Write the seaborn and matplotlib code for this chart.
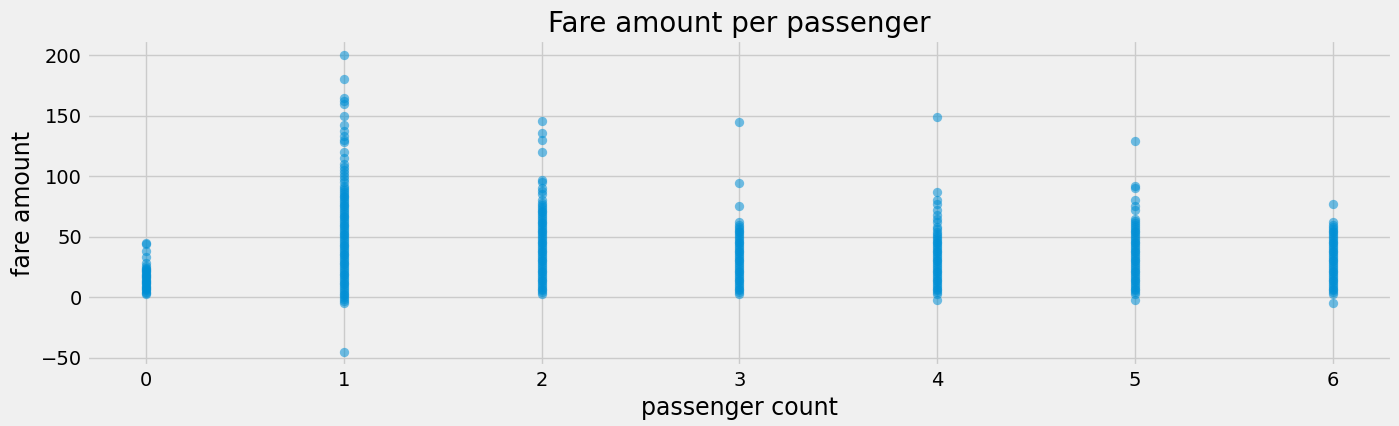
import matplotlib
matplotlib.use("Agg")
import matplotlib.pyplot as plt
import seaborn as sns
import pandas as pd

# fare values, one list per passenger count
# (dense parts listed closely so the columns look solid, as in the original)
fares_0 = [2.5, 3.5, 4.5, 5.5, 6.5, 7.5, 8.5, 9.5, 10.5, 11.5, 12.5, 13.5, 14.5, 15.5,
           16.5, 17.5, 18.5, 19.5, 20.5, 21.5, 22.5, 23.5, 24.5, 26, 28, 33, 38, 44, 45]
fares_1 = [-45, -5, -3, -1.5, 0, 1.5, 3, 4.5, 6, 7.5, 9, 10.5, 12, 13.5, 15, 16.5, 18,
           19.5, 21, 22.5, 24, 25.5, 27, 28.5, 30, 31.5, 33, 34.5, 36, 37.5, 39, 40.5,
           42, 43.5, 45, 46.5, 48, 49.5, 51, 52.5, 54, 55.5, 57, 58.5, 60, 61.5, 63,
           64.5, 66, 67.5, 69, 70.5, 72, 73.5, 75, 76.5, 78, 79.5, 81, 82.5, 84, 85.5,
           87, 88.5, 90, 92, 95, 98, 100, 103, 105, 108, 110, 115, 120, 128, 130, 133,
           137, 142, 150, 160, 162, 165, 180, 200]
fares_2 = [2.5, 4, 5.5, 7, 8.5, 10, 11.5, 13, 14.5, 16, 17.5, 19, 20.5, 22, 23.5, 25,
           26.5, 28, 29.5, 31, 32.5, 34, 35.5, 37, 38.5, 40, 41.5, 43, 44.5, 46, 47.5,
           49, 50.5, 52, 53.5, 55, 56.5, 58, 59.5, 61, 62.5, 64, 65.5, 67, 68.5, 70,
           71.5, 73, 74.5, 76, 78, 80, 85, 88, 90, 95, 97, 120, 130, 136, 146]
fares_3 = [2.5, 4, 5.5, 7, 8.5, 10, 11.5, 13, 14.5, 16, 17.5, 19, 20.5, 22, 23.5, 25,
           26.5, 28, 29.5, 31, 32.5, 34, 35.5, 37, 38.5, 40, 41.5, 43, 44.5, 46, 47.5,
           49, 50.5, 52, 53.5, 55, 56.5, 58, 60, 62, 75, 94, 145]
fares_4 = [-2.5, 2.5, 4, 5.5, 7, 8.5, 10, 11.5, 13, 14.5, 16, 17.5, 19, 20.5, 22, 23.5,
           25, 26.5, 28, 29.5, 31, 32.5, 34, 35.5, 37, 38.5, 40, 41.5, 43, 44.5, 46,
           47.5, 49, 50.5, 52, 54, 56, 58, 62, 65, 68, 72, 77, 80, 87, 149]
fares_5 = [-2.5, 2.5, 4, 5.5, 7, 8.5, 10, 11.5, 13, 14.5, 16, 17.5, 19, 20.5, 22, 23.5,
           25, 26.5, 28, 29.5, 31, 32.5, 34, 35.5, 37, 38.5, 40, 41.5, 43, 44.5, 46,
           47.5, 49, 50.5, 52, 53.5, 55, 56.5, 58, 59.5, 61, 63, 65, 72, 75, 80, 90,
           92, 129]
fares_6 = [-5, 2.5, 4, 5.5, 7, 8.5, 10, 11.5, 13, 14.5, 16, 17.5, 19, 20.5, 22, 23.5,
           25, 26.5, 28, 29.5, 31, 32.5, 34, 35.5, 37, 38.5, 40, 41.5, 43, 44.5, 46,
           47.5, 49, 50.5, 52, 53.5, 55, 56.5, 58, 60, 62, 77]

groups = [fares_0, fares_1, fares_2, fares_3, fares_4, fares_5, fares_6]
rows = []
for count, fares in enumerate(groups):
    for f in fares:
        rows.append({"passenger_count": count, "fare_amount": f})
df = pd.DataFrame(rows)

plt.style.use("fivethirtyeight")
fig, ax = plt.subplots(figsize=(13.99, 4.26), dpi=100)
sns.scatterplot(data=df, x="passenger_count", y="fare_amount", ax=ax,
                color="#008fd5", alpha=0.55, s=45, linewidth=0)
ax.set_title("Fare amount per passenger", fontsize=20)
ax.set_xlabel("passenger count", fontsize=17)
ax.set_ylabel("fare amount", fontsize=17)
ax.set_yticks([-50, 0, 50, 100, 150, 200])
ax.set_xticks(range(7))
fig.subplots_adjust(left=0.062, right=0.995, top=0.905, bottom=0.14)
fig.savefig("out.png")
